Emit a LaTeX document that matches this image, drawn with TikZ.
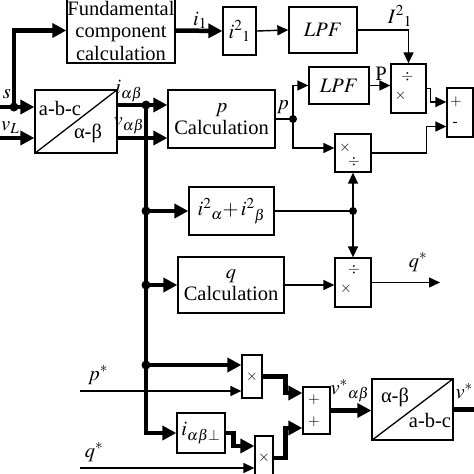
\documentclass[tikz,border=0pt]{standalone}
\usepackage{mathptmx}
\usepackage{fontspec}
\setmainfont{Liberation Serif}
\newfontfamily\timesfont{Liberation Serif}
\usetikzlibrary{arrows.meta,calc,positioning}
\tikzset{
    x=1pt,y=-1pt,
    every node/.style={font=\timesfont\fontsize{20.5}{22.5}\selectfont},
    block/.style ={rectangle, draw, line width=1.3pt, inner sep=0pt, align=center},
    sig/.style = {-{Triangle[length=11pt,width=10pt]}, line width=1.4pt},
    wire/.style = {line width=1.4pt},
    bus/.style = {-{Triangle[length=14pt,width=14pt]}, line width=4.5pt},
    op/.style = {inner sep=0pt, font=\timesfont\fontsize{15}{15}\selectfont},
    lbl/.style = {inner sep=0pt},
    point/.style = {circle, fill, inner sep=0pt, minimum size=9pt, node contents={}},
    spot/.style = {circle, fill, inner sep=0pt, minimum size=8pt, node contents={}}
}
\begin{document}
\begin{tikzpicture}
        \useasboundingbox (0,0) rectangle (474,474);
        % blocks
        \node[block, minimum width=108pt, minimum height=65pt] (fund) at (121,30.5) {Fundamental\\component\\calculation};
        \node[block, minimum width=82pt, minimum height=63pt] (abc) at (76,121.5) {};
        \node[block, minimum width=107pt, minimum height=58pt] (pcalc) at (221.5,119) {$p$\\Calculation};
        \node[block, minimum width=33pt, minimum height=48pt] (isq) at (239.5,31) {$i^{2}{}_{1}$};
        \node[block, minimum width=68pt, minimum height=46pt] (lpfA) at (323,30) {$LPF$};
        \node[block, minimum width=60pt, minimum height=37pt] (lpfB) at (339,85.5) {$LPF$};
        \node[block, minimum width=35pt, minimum height=49pt] (divA) at (408.5,88.5) {};
        \node[block, minimum width=26pt, minimum height=49pt] (pm) at (460,112.5) {};
        \node[block, minimum width=36pt, minimum height=38pt] (mdB) at (353,153) {};
        \node[block, minimum width=85pt, minimum height=48pt] (sumsq) at (231.5,211) {$i^{2}{}_{\alpha}{+}\,i^{2}{}_{\beta}$};
        \node[block, minimum width=106pt, minimum height=56pt] (qcalc) at (231,285) {$q$\\Calculation};
        \node[block, minimum width=36pt, minimum height=49pt] (divC) at (353,282.5) {};
        \node[block, minimum width=20pt, minimum height=43pt] (mulD) at (252,376.5) {};
        \node[block, minimum width=48pt, minimum height=40pt] (iperp) at (201,433) {$i_{\alpha\beta\perp}$};
        \node[block, minimum width=27pt, minimum height=47pt] (pp) at (316.5,410.5) {};
        \node[block, minimum width=18pt, minimum height=44pt] (mulE) at (264,458) {};
        \node[block, minimum width=81pt, minimum height=61pt] (abcB) at (412.5,409.5) {};
        % transformation boxes
        \draw[line width=1.3pt] (abc.south west) -- (abc.north east);
        \node[lbl] at ($(abc.center)+(-16,-13.5)$) {a-b-c};
        \node[lbl] at ($(abc.center)+(12,11.5)$) {α-β};
        \draw[line width=1.3pt] (abcB.south west) -- (abcB.north east);
        \node[lbl] at ($(abcB.center)+(-17.5,-12.5)$) {α-β};
        \node[lbl] at ($(abcB.center)+(17.5,10.5)$) {a-b-c};
        % operator signs
        \node[op] at ($(divA.center)+(-1,-12)$) {$\div$};
        \node[op] at ($(divA.center)+(-8,7.5)$) {$\times$};
        \node[op] at ($(mdB.center)+(-8,-5)$) {$\times$};
        \node[op] at ($(mdB.center)+(1,9)$) {$\div$};
        \node[op] at ($(divC.center)+(1,-12.5)$) {$\div$};
        \node[op] at ($(divC.center)+(-7,6.5)$) {$\times$};
        \node[op] at (mulD.center) {$\times$};
        \node[op] at (mulE.center) {$\times$};
        \node[op] at ($(pm.center)+(-4,-10.5)$) {$+$};
        \node[op] at ($(pm.center)+(-5,11.5)$) {-};
        \node[op] at ($(pp.center)+(-2.5,-10.5)$) {$+$};
        \node[op] at ($(pp.center)+(-2.5,11)$) {$+$};
        % coordinates
        \coordinate (isin) at (-10,107);
        \coordinate (vlin) at (-10,138);
        \coordinate (jis) at (14,107);
        \coordinate (jia) at (146,105);
        \coordinate (jp) at (146,365);
        \coordinate (pj) at (293,119);
        \coordinate (jq) at (353,211);
        \coordinate (qout) at (440,282.5);
        \coordinate (pstar) at (80,391);
        \coordinate (qstar) at (80,468);
        \coordinate (vout) at (490,409.5);
        % inputs
        \draw[bus] (isin) -- (abc.west |- isin);
        \draw[bus] (vlin) -- (abc.west |- vlin);
        \draw[bus] (jis) |- (fund.west);
        \node at (jis) [point];
        \node[lbl, anchor=base east] at (11,98) {$s$};
        \node[lbl, anchor=base west] at (1,130) {$v_L$};
        % fundamental branch
        \draw[bus] (fund.east) -- (isq.west);
        \node[lbl] at (200,20) {$i_1$};
        \draw[sig] (isq.east) -- (lpfA.west);
        \draw[sig] (lpfA.east) -| (divA.north);
        \node[lbl] at (400,16) {$I^{2}{}_{1}$};
        % alpha-beta outputs
        \draw[bus] (abc.east |- jia) -- (pcalc.west |- jia);
        \draw[bus] (abc.east |- vlin) -- (pcalc.west |- vlin);
        \node[lbl] at (129,91) {$i_{\alpha\beta}$};
        \node[lbl] at (129,126) {$v_{\alpha\beta}$};
        \draw[bus] (jia) |- (iperp.west);
        \draw[bus] (jia |- sumsq.west) -- (sumsq.west);
        \draw[bus] (jia |- qcalc.west) -- (qcalc.west);
        \draw[bus] (jp) -- (mulD.west |- jp);
        \node at (jia) [point];
        \node at (jia |- sumsq.west) [point];
        \node at (jia |- qcalc.west) [point];
        \node at (jp) [point];
        % power branch
        \draw[wire] (pcalc.east) -- (pj);
        \node[lbl] at (283,107) {$p$};
        \draw[sig] (pj) |- (lpfB.west);
        \draw[sig] (pj) |- ([yshift=5pt]mdB.west);
        \node at (pj) [spot];
        \draw[sig] (lpfB.east) -- (divA.west |- lpfB.east);
        \node[lbl] at (381,74) {P};
        \draw[sig] (divA.east) -- ++(4,0) |- ([yshift=10.5pt]pm.west);
        \draw[sig] (mdB.east) -- ++(55,0) |- ([yshift=-14pt]pm.west);
        % norm branch
        \draw[wire] (sumsq.east) -- (jq);
        \draw[sig] (jq) -- (mdB.south);
        \draw[sig] (jq) -- (divC.north);
        \node at (jq) [spot];
        \draw[sig] (qcalc.east) -- (divC.west |- qcalc.east);
        \draw[sig] (divC.east) -- (qout);
        \node[lbl] at (418,262) {$q^{*}$};
        % reference voltage
        \draw[sig] (pstar) -- (mulD.west |- pstar);
        \node[lbl] at (98,375) {$p^{*}$};
        \draw[sig] (qstar) -- (mulE.west |- qstar);
        \node[lbl] at (94,452) {$q^{*}$};
        \draw[bus] (mulD.east) -- ++(23,0) |- ([yshift=17.5pt]pp.west);
        \draw[bus] (iperp.east) -- ++(8,0) |- ([yshift=12pt]mulE.west);
        \draw[bus] (mulE.east) -- ++(12,0) |- ([yshift=-17.5pt]pp.west);
        \draw[bus] (pp.east) -- (abcB.west |- pp.east);
        \node[lbl] at (350,391) {$v^{*}{}_{\alpha\beta}$};
        \draw[bus] (abcB.east) -- (vout);
        \node[lbl, anchor=base east] at (473,398) {$v^{*}$};
\end{tikzpicture}
\end{document}
